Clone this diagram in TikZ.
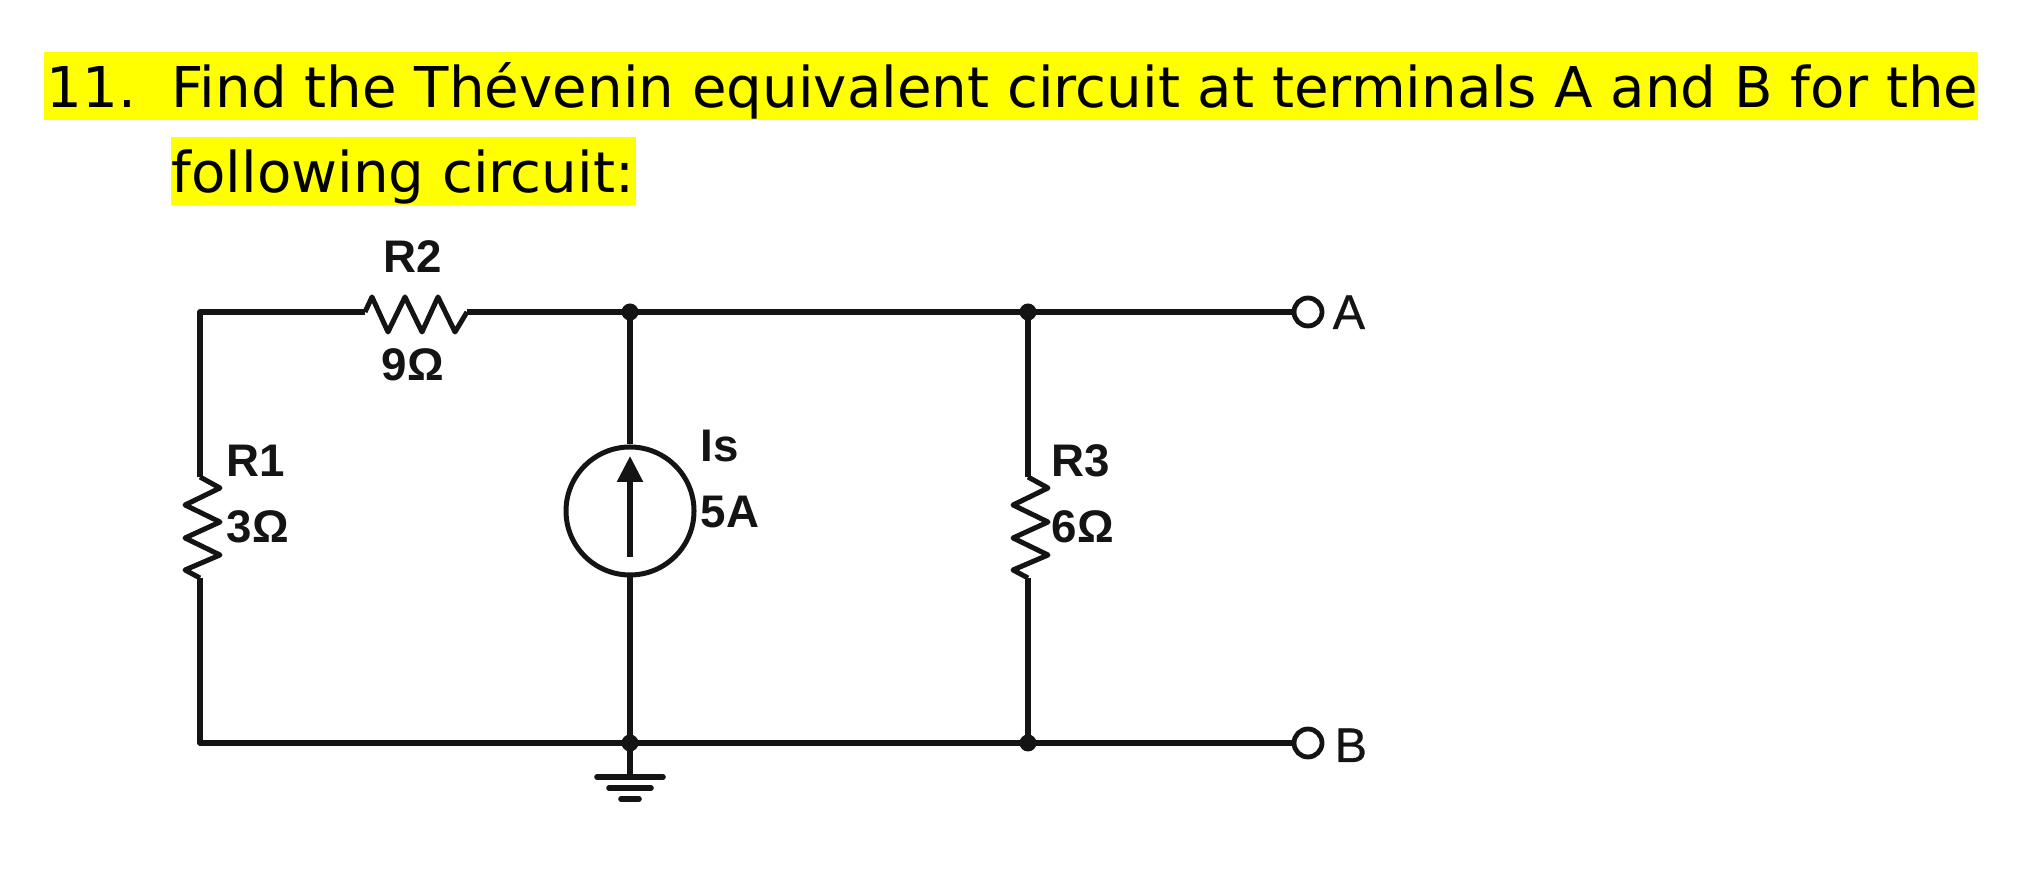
\documentclass[tikz,border=0pt]{standalone}
\usepackage{fontspec}
\setmainfont{DejaVu Sans}
\newfontfamily\cirfont{Liberation Sans}
\newfontfamily\termfont[FakeBold=0.6]{Liberation Sans}
\usetikzlibrary{positioning,arrows.meta,calc}
\definecolor{hilite}{RGB}{255,255,0}
\definecolor{inkblack}{RGB}{20,20,20}
\tikzset{
    wire/.style={line width=0.056cm, line join=round, inkblack},
    zigwire/.style={line width=0.05cm, line join=round, inkblack},
    headtext/.style={anchor=base west, inner sep=0pt, font=\fontsize{16}{18}\selectfont},
    cirlabel/.style={anchor=base west, inner sep=0pt, font=\cirfont\bfseries\fontsize{13}{15}\selectfont, inkblack},
    termlabel/.style={anchor=base west, inner sep=0pt, font=\termfont\fontsize{13.8}{15}\selectfont, inkblack},
    junction/.style={circle, fill=inkblack, inner sep=0pt, minimum size=0.17cm},
    terminal/.style={circle, draw=inkblack, line width=0.048cm, fill=white, inner sep=0pt, minimum size=0.28cm},
    source/.style={circle, draw=inkblack, line width=0.05cm, inner sep=0pt, minimum size=1.28cm}
}
\begin{document}
\begin{tikzpicture}
    \useasboundingbox (0,0) rectangle (20.36,8.87);

    % Highlighted question text
    \fill [hilite] (0.44,7.67) rectangle (19.78,8.35);
    \fill [hilite] (1.71,6.82) rectangle (6.36,7.50);
    \node [headtext] (num) at (0.46,7.79) {11.};
    \node [headtext] (line1) at (1.71,7.79) {Find the Thévenin equivalent circuit at terminals A and B for the};
    \node [headtext] (line2) at (1.71,6.94) {following circuit:};

    % Corners and junctions
    \coordinate (tl) at (2.00,5.75);
    \coordinate (bl) at (2.00,1.44);
    \node [junction] (n1) at (6.30,5.75) {};
    \node [junction] (n2) at (10.28,5.75) {};
    \node [junction] (m1) at (6.30,1.44) {};
    \node [junction] (m2) at (10.28,1.44) {};
    \node [terminal] (ta) at (13.08,5.75) {};
    \node [terminal] (tb) at (13.08,1.44) {};
    \node [termlabel] (la) at (13.32,5.58) {A};
    \node [termlabel] (lb) at (13.34,1.25) {B};

    % Resistor ends
    \coordinate (r2a) at (3.65,5.75);
    \coordinate (r2b) at (4.67,5.75);
    \coordinate (r1a) at (2.00,4.10);
    \coordinate (r1b) at (2.00,3.09);
    \coordinate (r3a) at (10.28,4.10);
    \coordinate (r3b) at (10.28,3.09);

    % Wires
    \draw [wire] (r2a) -- (tl) -- (r1a);
    \draw [wire] (r1b) -- (bl) -- (m1.center);
    \draw [wire] (r2b) -- (n1.center);
    \draw [wire] (n1.center) -- (n2.center);
    \draw [wire] (n2.center) -- (ta);
    \draw [wire] (m1.center) -- (m2.center);
    \draw [wire] (m2.center) -- (tb);
    \draw [wire] (n2.center) -- (r3a);
    \draw [wire] (r3b) -- (m2.center);

    % Resistors
    \draw [zigwire] (r2a) -- ++(0.07,0.15) -- ++(0.16,-0.35) -- ++(0.17,0.35) -- ++(0.17,-0.35) -- ++(0.16,0.35) -- ++(0.17,-0.35) -- (r2b);
    \foreach \ra/\rb in {r1a/r1b, r3a/r3b} {
        \draw [zigwire] (\ra) -- ++(0.20,-0.11) -- ++(-0.35,-0.17) -- ++(0.35,-0.17) -- ++(-0.35,-0.16) -- ++(0.35,-0.17) -- ++(-0.35,-0.15) -- (\rb);
    }

    % Current source
    \node [source] (is) at (6.30,3.76) {};
    \draw [wire] (n1.center) -- (is);
    \draw [wire] (is) -- (m1.center);
    \coordinate (ista) at (6.30,3.30);
    \coordinate (istb) at (6.30,4.31);
    \draw [wire, -{Triangle[length=0.26cm,width=0.25cm]}] (ista) -- (istb);

    % Ground
    \coordinate (gnd) at (6.30,1.10);
    \draw [wire] (m1.center) -- (gnd);
    \draw [wire, line cap=round] ($(gnd)+(-0.33,0)$) -- ($(gnd)+(0.33,0)$);
    \draw [wire, line cap=round] ($(gnd)+(-0.21,-0.11)$) -- ($(gnd)+(0.21,-0.11)$);
    \draw [wire, line cap=round] ($(gnd)+(-0.09,-0.22)$) -- ($(gnd)+(0.09,-0.22)$);

    % Labels
    \node [cirlabel] (r2n) at (3.83,6.14) {R2};
    \node [cirlabel] (r2v) at (3.81,5.06) {9Ω};
    \node [cirlabel] (r1n) at (2.26,4.10) {R1};
    \node [cirlabel] (r1v) at (2.26,3.44) {3Ω};
    \node [cirlabel] (isn) at (7.00,4.25) {Is};
    \node [cirlabel] (isv) at (7.00,3.59) {5A};
    \node [cirlabel] (r3n) at (10.51,4.10) {R3};
    \node [cirlabel] (r3v) at (10.51,3.44) {6Ω};
\end{tikzpicture}
\end{document}
